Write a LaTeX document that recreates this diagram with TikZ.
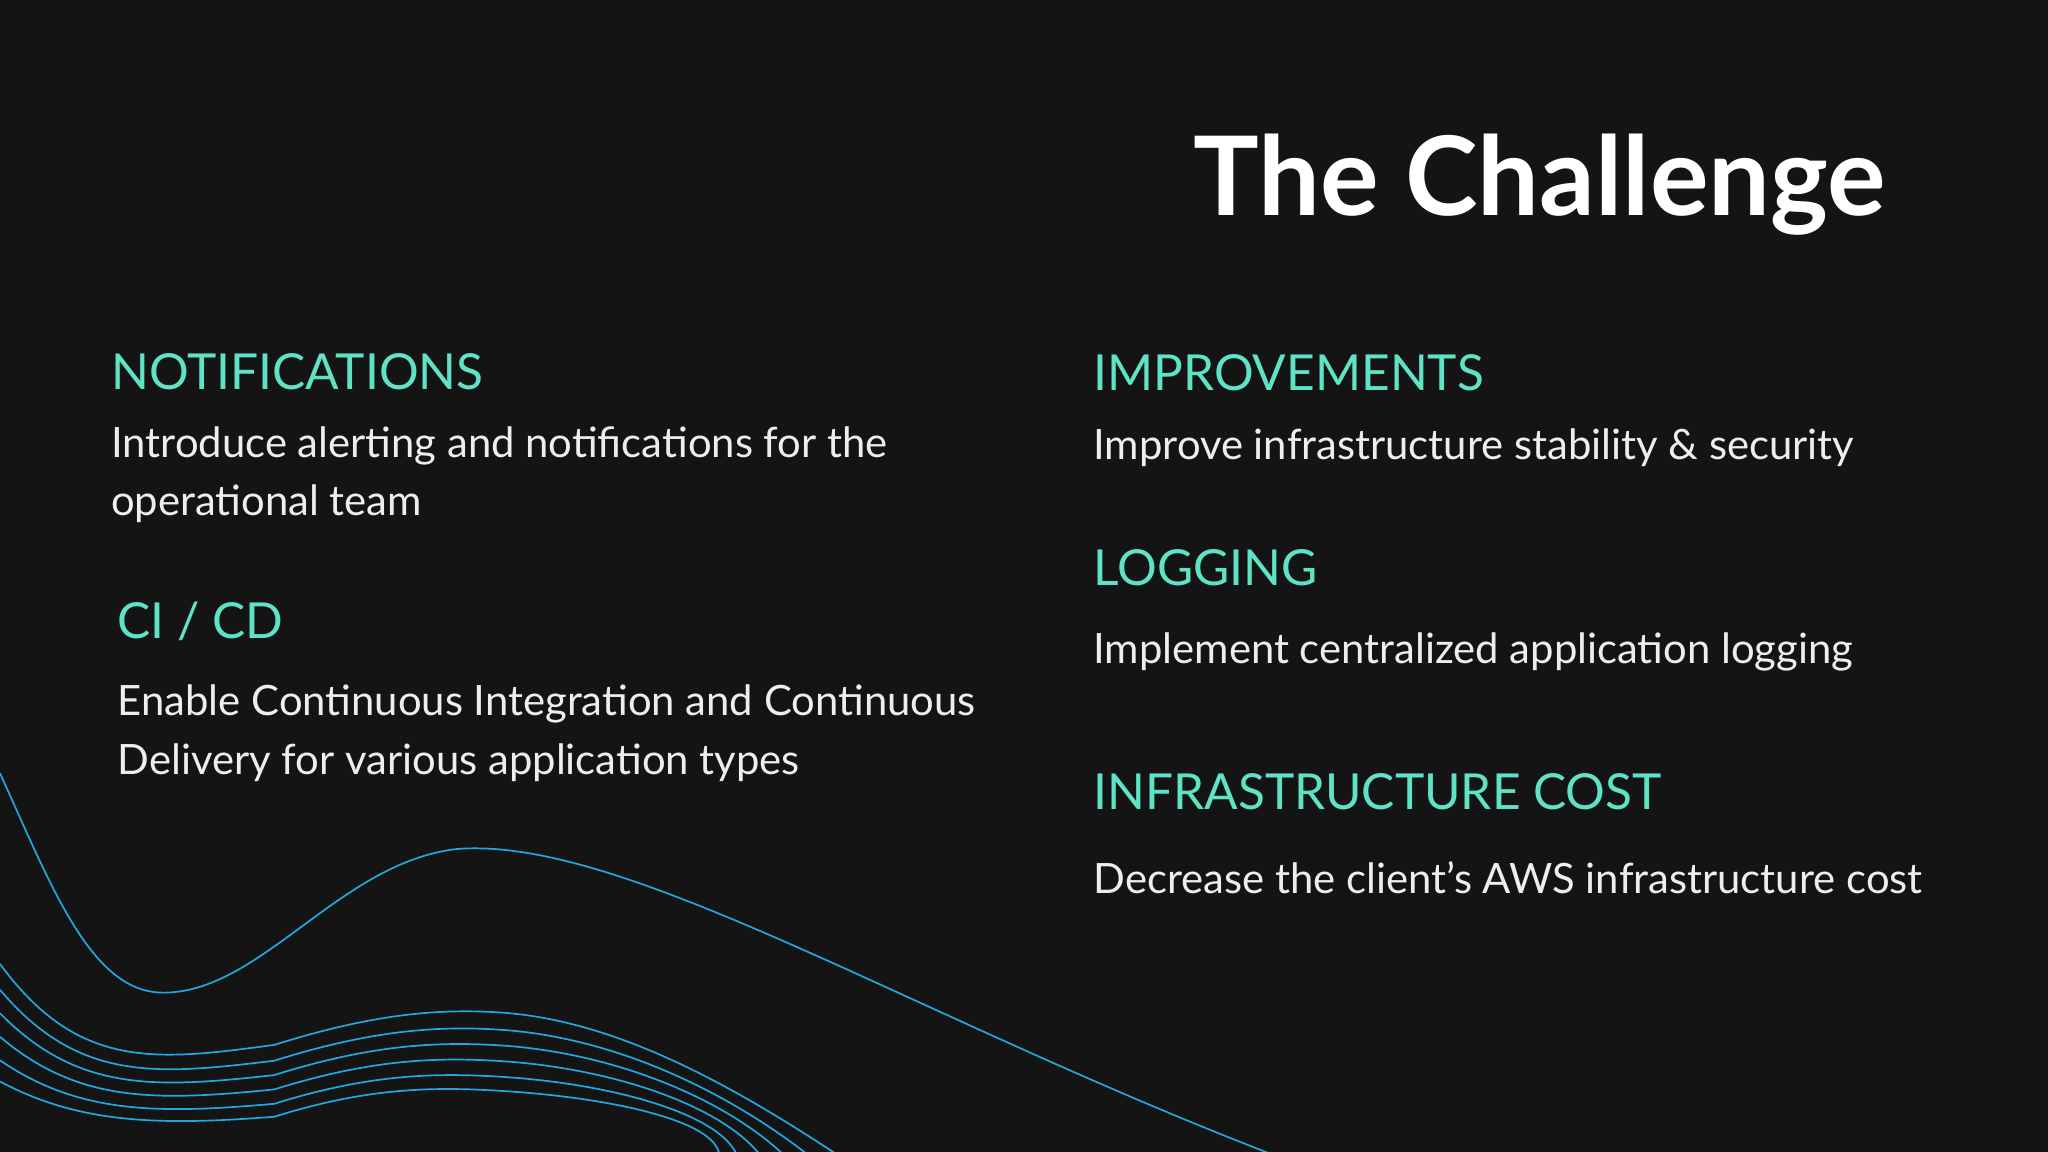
\documentclass[tikz,border=0pt]{standalone}
\usepackage{fontspec}
\setmainfont{Lato}
\definecolor{bg}{HTML}{141414}
\definecolor{teal}{HTML}{5FE3C6}
\definecolor{body}{HTML}{EEEEEE}
\definecolor{wave}{HTML}{22A8E0}
\begin{document}
\begin{tikzpicture}[x=1pt,y=-1pt,
  head/.style={anchor=base west,inner sep=0pt,text=teal,font=\fontsize{38}{46}\selectfont},
  txt/.style={anchor=base west,inner sep=0pt,text=body,font=\fontsize{32}{45}\selectfont,align=left},
  wv/.style={draw=wave,line width=1.3pt}]
\fill[bg] (0,0) rectangle (1568,882);
\useasboundingbox (0,0) rectangle (1568,882);
\begin{scope}
\clip (0,0) rectangle (1568,882);
\draw[wv] (0,592) .. controls (40,680) and (70,760) .. (125,760) .. controls (200,760) and (260,660) .. (350,650) .. controls (480,640) and (700,780) .. (990,890);
\foreach \d/\e in {0/0,22/12,42/22,62/32,82/42,100/50}{
  \draw[wv] (0,{738+\d*0.9}) .. controls (60,{820+\d*0.4}) and (120,{812+\d*0.5}) .. (210,{800+\d*0.55}) .. controls (280,{778+\d*0.55}) and (330,{772+\d*0.6}) .. (380,{775+\d*0.6}) .. controls (470,{780+\d*0.6}) and (560,{830+\d*0.3}) .. ({650-\e*2},{890});
}
\end{scope}
\node[anchor=base east,inner sep=0pt,text=white,font=\fontsize{84}{90}\selectfont\bfseries] (title) at (1444,165) {The Challenge};
\node[head] (h1) at (85,298) {NOTIFICATIONS};
\node[txt] (t1) at (85,350) {Introduce alerting and notifications for the};
\node[txt] (t1b) at (85,395) {operational team};
\node[head] (h2) at (90,489) {CI / CD};
\node[txt] (t2) at (90,548) {Enable Continuous Integration and Continuous};
\node[txt] (t2b) at (90,593) {Delivery for various application types};
\node[head] (h3) at (837,299) {IMPROVEMENTS};
\node[txt] (t3) at (837,352) {Improve infrastructure stability \& security};
\node[head] (h4) at (837,448) {LOGGING};
\node[txt] (t4) at (837,508) {Implement centralized application logging};
\node[head] (h5) at (837,620) {INFRASTRUCTURE COST};
\node[txt] (t5) at (837,684) {Decrease the client’s AWS infrastructure cost};
\end{tikzpicture}
\end{document}
